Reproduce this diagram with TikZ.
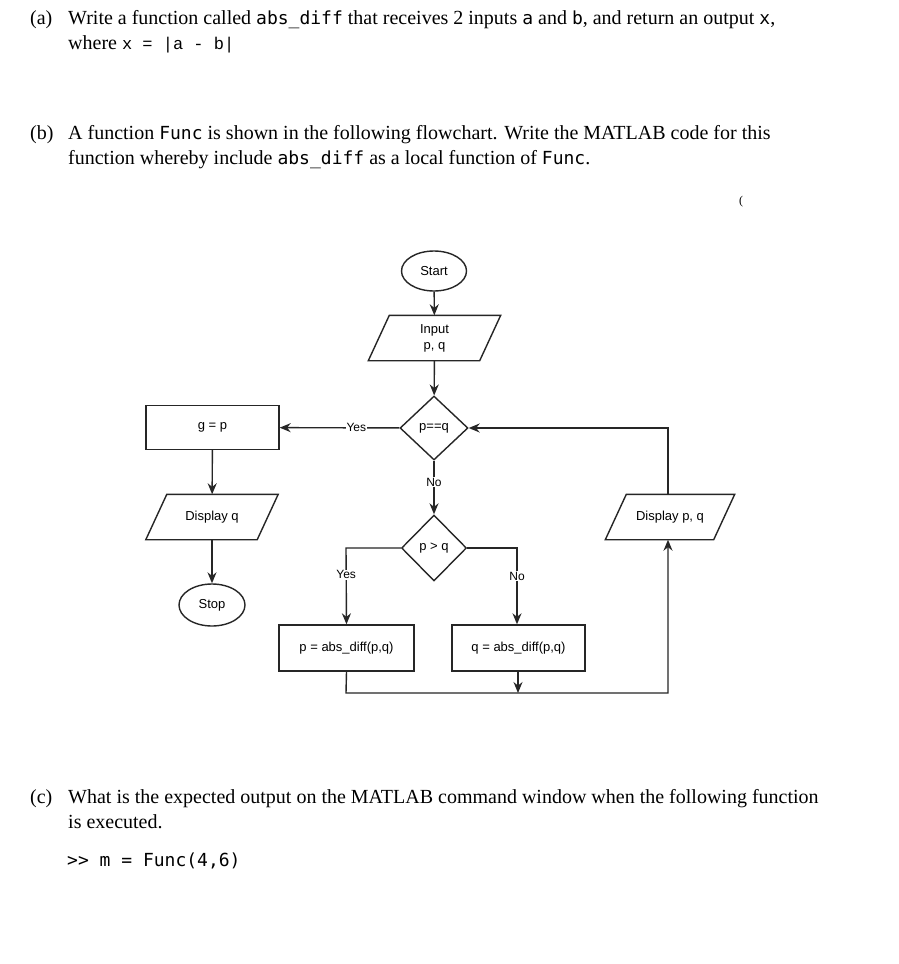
\documentclass[tikz,border=0pt]{standalone}
\usepackage{fontspec}
\setmainfont{Liberation Serif}
\newfontfamily\cmono{DejaVu Sans Mono}
\newfontfamily\lmono{Liberation Mono}
\newfontfamily\fsans{Liberation Sans}
\newcommand{\mycodef}{\cmono\fontsize{18}{20}\selectfont}
\usetikzlibrary{shapes.geometric,arrows.meta}
\tikzset{
  qtext/.style={anchor=base west,inner sep=0pt,font=\fontsize{20}{24}\selectfont},
  fl/.style={line width=1.4pt,draw=black!85},
  arr/.style={fl,-{Stealth[length=11pt,width=9pt]}},
  procbox/.style={rectangle,fl,minimum width=133pt,minimum height=44pt,inner sep=0pt,font=\fsans\fontsize{13}{15}\selectfont},
  parabox/.style={rectangle,draw=none,minimum width=111pt,minimum height=45pt,inner sep=0pt,align=center,font=\fsans\fontsize{13}{16}\selectfont},
  decide/.style={diamond,fl,minimum width=68pt,minimum height=64pt,inner sep=0pt,font=\fsans\fontsize{13}{15}\selectfont},
  term/.style={ellipse,fl,minimum width=65pt,minimum height=40pt,inner sep=0pt,font=\fsans\fontsize{13}{15}\selectfont},
  lbl/.style={fill=white,inner sep=1pt,font=\fsans\fontsize{12}{14}\selectfont},
}
\newcommand{\drawpara}[1]{\draw[fl] ([xshift=10.5pt]#1.north west) -- ([xshift=10.5pt]#1.north east) -- ([xshift=-10.5pt]#1.south east) -- ([xshift=-10.5pt]#1.south west) -- cycle;}
\begin{document}
\begin{tikzpicture}[x=1pt,y=-1pt]
\useasboundingbox[fill=white] (0,0) rectangle (898,964);
% question text
\node[qtext] (la) at (30,24) {(a)};
\node[qtext] (a1) at (68,24) {Write a function called {\mycodef abs\_diff} that receives 2 inputs {\mycodef a} and {\mycodef b}, and return an output {\mycodef x},};
\node[qtext] (a2) at (68,49) {where {\lmono\fontsize{17}{20}\selectfont x = |a - b|}};
\node[qtext] (lb) at (30,139) {(b)};
\node[qtext] (b1) at (68,139) {A function {\mycodef Func} is shown in the following flowchart. Write the MATLAB code for this};
\node[qtext] (b2) at (68,164) {function whereby include {\mycodef abs\_diff} as a local function of {\mycodef Func}.};
\node[qtext,font=\fontsize{12}{13}\selectfont] (stray) at (739,204) {(};
\node[qtext] (lc) at (30,803) {(c)};
\node[qtext] (c1) at (68,803) {What is the expected output on the MATLAB command window when the following function};
\node[qtext] (c2) at (68,828) {is executed.};
\node[qtext,font=\cmono\fontsize{18}{20}\selectfont] (c3) at (67,866) {>> m = Func(4,6)};
% flowchart nodes
\node[term] (start) at (434,271) {Start};
\node[parabox] (input) at (434.5,338) {Input\\p, q};
\drawpara{input}
\node[decide] (eq) at (434,428) {p==q};
\node[procbox] (g) at (212.5,427.5) {g = p};
\node[parabox] (dq) at (212,517) {Display q};
\drawpara{dq}
\node[term,minimum width=66pt,minimum height=42pt] (stop) at (212,605) {Stop};
\node[decide,minimum width=65pt,minimum height=66pt] (gt) at (434,548) {p > q};
\node[procbox,minimum width=135pt,minimum height=46pt] (pbox) at (346.5,648) {p = abs\_diff(p,q)};
\node[procbox,minimum width=133pt,minimum height=46pt] (qbox) at (518.5,648) {q = abs\_diff(p,q)};
\node[parabox,minimum width=108pt] (dpq) at (670,517) {Display p, q};
\drawpara{dpq}
\coordinate (pl) at (346,548);
\coordinate (pr) at (517,548);
\coordinate (jn) at (518,693);
\coordinate (bl) at (346,693);
\coordinate (br) at (668,693);
\coordinate (tr) at (668,428);
% connectors
\draw[arr] (start) -- (input);
\draw[arr] (input) -- (eq);
\draw[arr] (eq) -- node[lbl,pos=0.36] {Yes} (g);
\draw[arr] (g) -- (dq);
\draw[arr] (dq) -- (stop);
\draw[arr] (eq) -- node[lbl,pos=0.4] {No} (gt);
\draw[arr] (gt.west) -- (pl) -- node[lbl,pos=0.35] {Yes} (pbox.north);
\draw[arr] (gt.east) -- (pr) -- node[lbl,pos=0.37] {No} (pr |- qbox.north);
\draw[arr] (qbox.south -| jn) -- (jn);
\draw[arr] (pbox.south) -- (bl) -- (br) -- (dpq.south -| br);
\draw[arr] (dpq.north -| tr) -- (tr) -- (eq.east);
\end{tikzpicture}
\end{document}
